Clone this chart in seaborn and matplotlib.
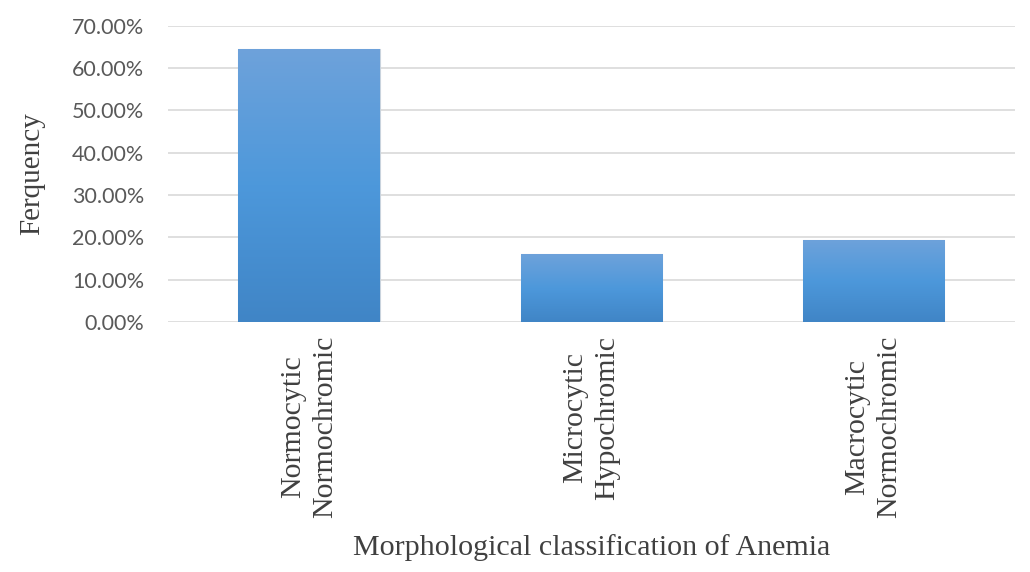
import numpy as np
import pandas as pd
import matplotlib
matplotlib.use("Agg")
import matplotlib.pyplot as plt
import seaborn as sns
from matplotlib.colors import LinearSegmentedColormap
from matplotlib.ticker import FuncFormatter

# === dados ===
categorias = ["Normocytic\nNormochromic", "Microcytic\nHypochromic", "Macrocytic\nNormochromic"]
frequencia = [0.645, 0.160, 0.194]
yticks = [0.0, 0.1, 0.2, 0.3, 0.4, 0.5, 0.6, 0.7]

df = pd.DataFrame({"Classe": categorias, "Freq": frequencia})

sns.set_style("white")
plt.rcParams["font.family"] = ["Liberation Serif", "DejaVu Serif"]

fig = plt.figure(figsize=(10.30, 5.72), dpi=100)
ax = fig.add_axes([0.163, 0.437, 0.822, 0.518])

sns.barplot(data=df, x="Classe", y="Freq", color="#4f94d8", width=0.5,
            saturation=1, ax=ax, zorder=3)

# gradiente estilo Excel dentro de cada barra
cmap = LinearSegmentedColormap.from_list("grad", ["#4085c6", "#4d98db", "#6ea2da"])
grad = np.linspace(0, 1, 256).reshape(-1, 1)
for p in ax.patches:
    x0, y0 = p.get_x(), p.get_y()
    w, h = p.get_width(), p.get_height()
    im = ax.imshow(grad, cmap=cmap, origin="lower", aspect="auto",
                   extent=[x0, x0 + w, y0, y0 + h], zorder=4)
    im.set_clip_path(p)
    p.set_edgecolor("#c9d3dd")
    p.set_linewidth(0.8)

ax.set_xlim(-0.5, 2.5)
ax.set_ylim(0, 0.70)
ax.set_yticks(yticks)
ax.yaxis.set_major_formatter(FuncFormatter(lambda v, _: f"{v*100:.2f}%"))
ax.grid(axis="y", color="#d9d9d9", linewidth=1.2, zorder=0)
ax.set_axisbelow(True)
for s in ax.spines.values():
    s.set_visible(False)

ax.tick_params(axis="y", length=0, pad=17, labelsize=15.5, labelcolor="#595959")
for lbl in ax.get_yticklabels():
    lbl.set_family(["Lato", "DejaVu Sans"])
ax.tick_params(axis="x", length=0, pad=10)
ax.set_xticks(range(len(categorias)))
ax.set_xticklabels(categorias, rotation=90, fontsize=21.5, color="#404040",
                   ha="center", va="top", multialignment="center", linespacing=1.3)

ax.set_xlabel("Morphological classification of Anemia", fontsize=21.6, color="#404040")
ax.set_ylabel("Ferquency", fontsize=21, color="#404040")
ax.xaxis.set_label_coords(0.5, -0.715)
ax.yaxis.set_label_coords(-0.145, 0.5)

plt.savefig("out.png", dpi=100)
